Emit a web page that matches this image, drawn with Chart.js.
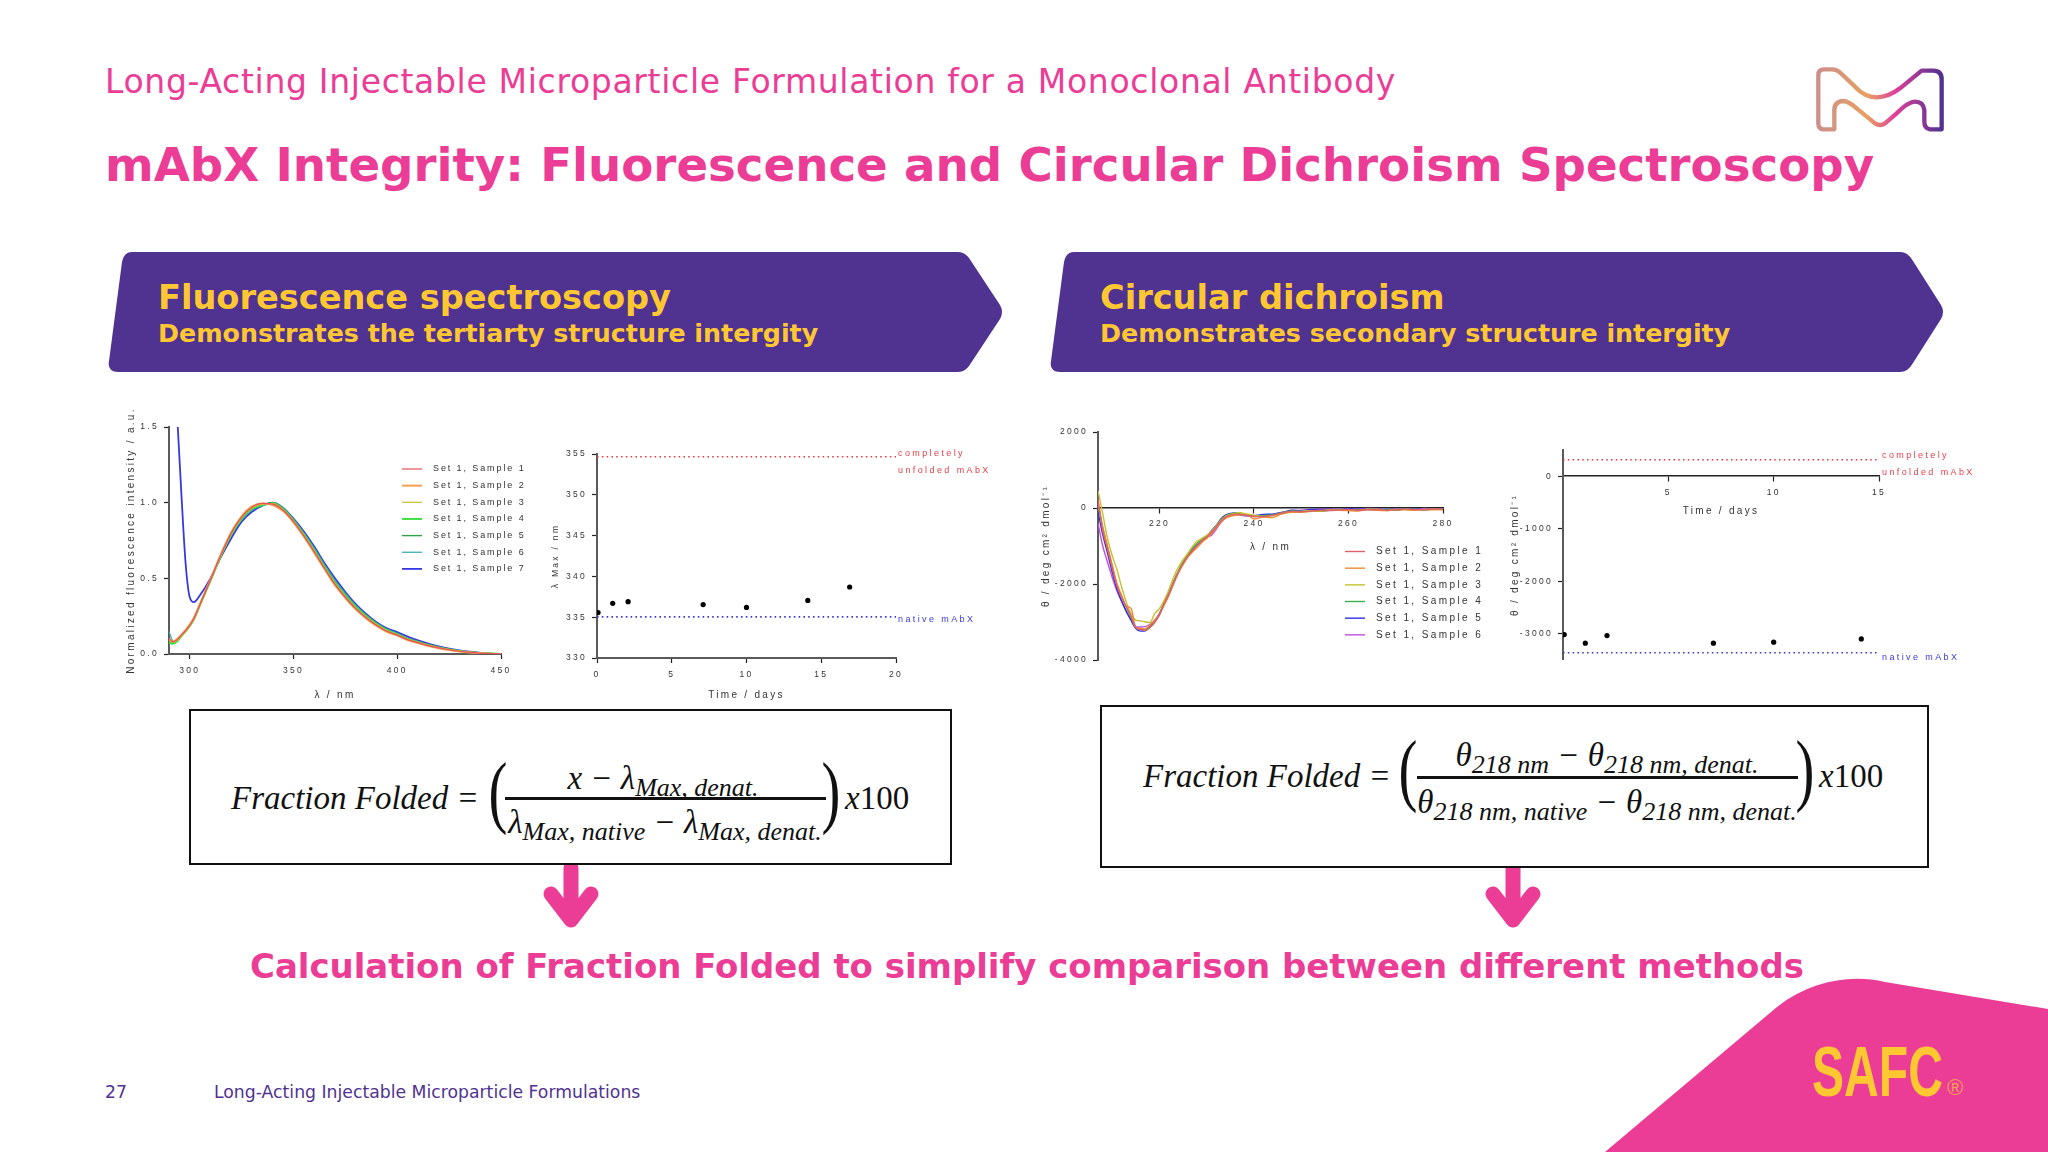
<!DOCTYPE html>
<html><head><meta charset="utf-8">
<script src="https://cdn.jsdelivr.net/npm/chart.js@4"></script>
<style>
html,body{margin:0;padding:0;background:#fff;width:2048px;height:1152px;overflow:hidden;font-family:"DejaVu Sans",sans-serif}
.t{position:absolute;white-space:nowrap;line-height:1;transform:translateY(-50%)}
.c{position:absolute;white-space:nowrap;line-height:1;transform:translate(-50%,-50%)}
.f{font-family:"Liberation Serif",serif;font-style:italic;color:#111;font-size:33px}
.f sub{font-size:26px;vertical-align:-7px;line-height:0}
.f .up{font-style:normal}
.paren{position:absolute;line-height:1;font-family:"Liberation Serif",serif;font-size:81px;font-weight:normal;color:#111;transform:translate(-50%,-50%) scaleX(.7)}
.box{position:absolute;border:2.5px solid #111;box-sizing:border-box;background:#fff}
canvas{position:absolute}
svg{position:absolute;left:0;top:0}
</style></head><body>
<svg width="2048" height="1152" viewBox="0 0 2048 1152">
  <defs><linearGradient id="lg" x1="0" x2="1" y1="0" y2="0">
    <stop offset="0" stop-color="#cc8f8c"/><stop offset=".4" stop-color="#e8a060"/><stop offset=".62" stop-color="#e0409a"/><stop offset="1" stop-color="#503291"/></linearGradient></defs>
  <path d="M132,252 H958 Q966,252 971,261 L1000,305 Q1004,312 1000,319 L971,363 Q966,372 958,372 H118 Q107,372 109,361 L122,262 Q124,252 132,252 Z" fill="#503291"/>
  <path d="M1074,252 H1900 Q1908,252 1913,261 L1941,305 Q1945,312 1941,319 L1913,363 Q1908,372 1900,372 H1060 Q1049,372 1051,361 L1064,262 Q1066,252 1074,252 Z" fill="#503291"/>
  <path d="M1605,1152 L1777,1007 C1810,981 1850,974 1885,982 L2048,1009 V1152 Z" fill="#eb3c96"/>
  <g transform="translate(1780,40) scale(0.3333)" fill="none" stroke="url(#lg)" stroke-width="13" stroke-linejoin="round" stroke-linecap="round">
    <path d="M115,105 Q115,88 132,88 H155 Q172,88 185,102 L225,140 Q255,172 290,172 Q325,172 360,145 L425,92 H460 Q485,92 485,118 V268 H450 Q433,265 433,245 V210 Q430,185 405,185 Q385,185 350,220 L315,250 Q300,260 285,250 L230,205 Q205,183 190,183 Q163,185 163,210 V268 H130 Q115,268 115,250 Z"/>
  </g>
  <g fill="none" stroke="#eb3c96" stroke-width="15" stroke-linecap="round" stroke-linejoin="round">
    <path d="M571,868 V920 M551,894 L571,920 L591,894"/>
    <path d="M1513,868 V920 M1493,894 L1513,920 L1533,894"/>
  </g>
</svg>

<div class="t" style="left:105px;top:81px;font-size:33px;letter-spacing:.68px;color:#eb3c96">Long-Acting Injectable Microparticle Formulation for a Monoclonal Antibody</div>
<div class="t" style="left:105px;top:164.5px;font-size:46.7px;font-weight:bold;color:#eb3c96">mAbX Integrity: Fluorescence and Circular Dichroism Spectroscopy</div>
<div class="t" style="left:158px;top:298px;font-size:33.6px;font-weight:bold;color:#ffc832">Fluorescence spectroscopy</div>
<div class="t" style="left:158px;top:334px;font-size:25.3px;font-weight:bold;color:#ffc832">Demonstrates the tertiarty structure intergity</div>
<div class="t" style="left:1100px;top:298px;font-size:33.6px;font-weight:bold;color:#ffc832">Circular dichroism</div>
<div class="t" style="left:1100px;top:334px;font-size:25.3px;font-weight:bold;color:#ffc832">Demonstrates secondary structure intergity</div>

<canvas id="c1" style="left:110px;top:400px" width="430" height="306"></canvas>
<canvas id="c2" style="left:540px;top:430px" width="470" height="276"></canvas>
<canvas id="c3" style="left:1030px;top:410px" width="470" height="270"></canvas>
<canvas id="c4" style="left:1500px;top:430px" width="490" height="240"></canvas>

<div class="box" style="left:189px;top:709px;width:763px;height:156px"></div>
<div class="box" style="left:1100px;top:705px;width:829px;height:163px"></div>

<div class="t f" style="left:231px;top:798px">Fraction Folded =</div>
<div class="paren" style="left:498px;top:791px">(</div>
<div class="c f" style="left:663px;top:778px">x − λ<sub>Max, denat.</sub></div>
<div style="position:absolute;left:505px;top:797px;width:321px;height:2.5px;background:#111"></div>
<div class="c f" style="left:665px;top:822px">λ<sub>Max, native</sub> − λ<sub>Max, denat.</sub></div>
<div class="paren" style="left:831px;top:791px">)</div>
<div class="t f" style="left:845px;top:798px">x<span class="up">100</span></div>

<div class="t f" style="left:1143px;top:776px">Fraction Folded =</div>
<div class="paren" style="left:1408px;top:769px">(</div>
<div class="c f" style="left:1607px;top:755px">θ<sub>218 nm</sub> − θ<sub>218 nm, denat.</sub></div>
<div style="position:absolute;left:1417px;top:776px;width:381px;height:2.5px;background:#111"></div>
<div class="c f" style="left:1607px;top:802px">θ<sub>218 nm, native</sub> − θ<sub>218 nm, denat.</sub></div>
<div class="paren" style="left:1805px;top:769px">)</div>
<div class="t f" style="left:1819px;top:776px">x<span class="up">100</span></div>

<div class="t" style="left:250px;top:967px;font-size:33.95px;font-weight:bold;color:#eb3c96">Calculation of Fraction Folded to simplify comparison between different methods</div>
<div class="t" style="left:105px;top:1093px;font-size:17.25px;color:#503291">27</div>
<div class="t" style="left:214px;top:1093px;font-size:17.25px;color:#503291">Long-Acting Injectable Microparticle Formulations</div>
<div class="t" style="left:1812px;top:1071px;font-size:71px;font-weight:bold;color:#ffc832;font-family:'Liberation Sans',sans-serif;transform-origin:left center;transform:translateY(-50%) scaleX(.677)">SAFC</div>
<div class="t" style="left:1947px;top:1088px;font-size:22px;color:#f8a050;font-family:'Liberation Sans',sans-serif">®</div>

<script>
// ---------- Fluorescence spectra ----------
const wavelengths = [290,291,292,294,296,298,300,302,305,310,315,320,325,330,335,340,345,350,355,360,365,370,375,380,385,390,395,400,405,410,415,420,425,430,435,440,445,450];
const fl1 = [.105,.09,.08,.095,.125,.155,.19,.235,.33,.49,.655,.80,.905,.97,.995,.99,.95,.875,.78,.675,.565,.46,.375,.30,.24,.19,.15,.125,.095,.075,.055,.04,.028,.018,.011,.006,.002,0];
const fl2 = [.10,.088,.082,.10,.128,.16,.195,.24,.335,.495,.66,.805,.91,.975,.995,.985,.945,.87,.775,.67,.56,.455,.37,.295,.235,.185,.147,.122,.092,.072,.053,.038,.026,.017,.010,.005,.002,0];
const fl3 = [.09,.082,.078,.09,.12,.15,.185,.23,.325,.485,.65,.795,.90,.965,.99,.995,.955,.88,.785,.68,.57,.465,.38,.305,.245,.195,.155,.128,.098,.077,.057,.042,.029,.019,.012,.006,.002,0];
const fl4 = [.075,.07,.068,.085,.118,.15,.185,.23,.325,.485,.648,.79,.895,.96,.985,.995,.955,.88,.79,.685,.575,.47,.385,.31,.25,.198,.157,.13,.10,.079,.059,.043,.03,.02,.012,.006,.003,0];
const fl5 = [.085,.076,.072,.088,.12,.152,.187,.232,.327,.487,.65,.79,.893,.958,.985,1.0,.96,.885,.79,.685,.578,.475,.388,.312,.25,.20,.16,.132,.10,.08,.06,.044,.03,.02,.012,.007,.003,0];
const fl6 = [.15,.11,.085,.092,.122,.153,.188,.233,.328,.488,.648,.785,.885,.95,.98,1.0,.968,.892,.80,.70,.59,.487,.40,.322,.258,.205,.165,.137,.105,.083,.062,.046,.032,.021,.013,.007,.003,0];
const fl7 = [null,null,null,1.56,1.05,.60,.375,.343,.39,.50,.64,.765,.875,.94,.98,1.0,.965,.895,.81,.71,.60,.50,.41,.33,.265,.21,.17,.145,.115,.09,.068,.05,.036,.024,.015,.008,.003,0];
const flLabels = ["Set 1, Sample 1","Set 1, Sample 2","Set 1, Sample 3","Set 1, Sample 4","Set 1, Sample 5","Set 1, Sample 6","Set 1, Sample 7"];
const flColors = ["#e8505a","#f4a050","#c4c030","#40e040","#30a048","#30a8b0","#3838e0"];
const flWidths = [1.2,2,1.2,2,1.4,1.2,1.8];

// ---------- lambda max vs time ----------
const lamDays = [0.07,1.05,2.08,7.1,10,14.1,16.9];
const lamMax = [335.57,336.7,336.9,336.55,336.2,337.05,338.7];
const lamRefDays = [0,20];
const lamUnfolded = [354.67,354.67];
const lamNative = [335.04,335.04];

// ---------- Circular dichroism spectra ----------
const cdWavelengths = [207,208,209,210,211,212,213,214,215,216,217,218,219,220,221,222,223,224,225,226,227,228,229,230,231,232,233,234,235,236,237,238,239,240,242,244,246,248,250,252,254,256,258,260,262,264,266,268,270,272,274,276,278,280];
const cd1 = [250,-600,-1080,-1580,-2050,-2350,-2600,-2850,-3150,-3200,-3220,-3130,-3000,-2820,-2520,-2260,-1960,-1680,-1460,-1270,-1120,-980,-860,-770,-640,-500,-340,-240,-190,-160,-170,-190,-200,-220,-230,-190,-130,-90,-100,-80,-60,-70,-50,-40,-60,-50,-40,-60,-50,-30,-40,-50,-20,-30];
const cd2 = [150,-500,-1000,-1500,-1980,-2300,-2580,-2640,-3140,-3170,-3180,-3080,-2960,-2790,-2560,-2300,-2000,-1710,-1490,-1300,-1160,-1040,-900,-800,-680,-530,-370,-270,-220,-190,-180,-170,-210,-290,-240,-250,-150,-110,-110,-90,-70,-60,-60,-70,-80,-40,-60,-70,-40,-50,-60,-40,-50,-40];
const cd3 = [450,-150,-800,-1250,-1620,-2080,-2480,-2780,-2950,-2970,-3000,-3010,-2780,-2650,-2430,-2150,-1820,-1560,-1360,-1190,-1010,-870,-800,-720,-620,-480,-330,-220,-170,-140,-120,-150,-170,-190,-220,-200,-150,-100,-90,-70,-80,-50,-60,-40,-70,-30,-30,-70,-40,-30,-50,-40,-30,-50];
const cd4 = [80,-520,-1020,-1520,-2020,-2340,-2620,-2880,-3140,-3190,-3210,-3150,-3010,-2800,-2510,-2240,-1930,-1660,-1420,-1240,-1060,-930,-830,-740,-620,-470,-310,-210,-160,-130,-150,-180,-190,-210,-200,-180,-120,-80,-90,-70,-90,-60,-40,-50,-50,-40,-40,-50,-60,-30,-40,-50,-30,-40];
const cd5 = [-100,-700,-1180,-1680,-2130,-2450,-2720,-2960,-3170,-3240,-3230,-3120,-2970,-2790,-2500,-2240,-1950,-1690,-1460,-1270,-1110,-970,-880,-760,-600,-460,-290,-190,-140,-130,-160,-200,-210,-200,-170,-160,-120,-60,-70,-40,-30,-30,-40,-20,-30,-30,-30,-40,-30,-20,-30,-40,-20,-30];
const cd6 = [-400,-1000,-1420,-1820,-2180,-2460,-2730,-2930,-3130,-3130,-3120,-3060,-2950,-2770,-2530,-2280,-1980,-1700,-1450,-1270,-1120,-990,-880,-760,-720,-560,-380,-260,-190,-180,-180,-200,-190,-230,-200,-170,-110,-70,-60,-50,-40,-20,-40,-30,-30,-10,-20,-50,-40,-30,-40,-10,-30,-20];
const cdLabels = ["Set 1, Sample 1","Set 1, Sample 2","Set 1, Sample 3","Set 1, Sample 4","Set 1, Sample 5","Set 1, Sample 6"];
const cdColors = ["#e0606a","#f08a30","#c8c030","#3ab04a","#3030e0","#c050e0"];

// ---------- theta 218 vs time ----------
const thDays = [0.06,1.06,2.09,7.14,10,14.16];
const thValues = [-3018,-3182,-3037,-3182,-3163,-3100];
const thRefDays = [0,15];
const thUnfolded = [315,315];
const thNative = [-3365,-3365];
const thTicks = [-3000,-2000,-1000,0];

const INK = "#333";
const RED = "#e8404a";
const BLUE = "#3a3ad8";
const FONT = 'Liberation Sans';

// Wide-tracked text, legend and side notes (the source figure's look).
const trackingPlugin = {
  id: 'tracking',
  beforeDraw(chart, args, o) { chart.ctx.letterSpacing = (o.spacing || 2.3) + 'px'; },
  afterDraw(chart, args, o) {
    const ctx = chart.ctx;
    ctx.save();
    ctx.textBaseline = 'middle'; ctx.textAlign = 'left';
    if (o.legend) {
      const L = o.legend;
      ctx.letterSpacing = L.spacing + 'px';
      ctx.font = L.size + 'px "' + FONT + '"';
      const items = chart.data.datasets.filter(d => d.inLegend);
      items.forEach((d, i) => {
        const y = L.y + i * L.step;
        ctx.strokeStyle = d.borderColor; ctx.lineWidth = d.borderWidth;
        ctx.beginPath(); ctx.moveTo(L.x, y); ctx.lineTo(L.x + 20, y); ctx.stroke();
        ctx.fillStyle = INK; ctx.fillText(d.label, L.x + 31, y);
      });
    }
    (o.notes || []).forEach(n => {
      ctx.letterSpacing = n.spacing + 'px';
      ctx.font = n.size + 'px "' + FONT + '"';
      ctx.fillStyle = n.color; ctx.fillText(n.text, n.x, n.y);
    });
    ctx.restore();
    ctx.letterSpacing = '0px';
  }
};

function linePts(xs, ys) { return xs.map((x, i) => ({x, y: ys[i]})); }

function axis(o) {
  return Object.assign({
    type: 'linear', min: o.min, max: o.max,
    border: {display: true, color: o.borderColor || '#5a5a5a', width: o.borderWidth || 2},
    grid: {drawOnChartArea: false, drawTicks: true, tickLength: 5, tickColor: '#222', tickWidth: 1.2},
    ticks: {
      stepSize: o.step, includeBounds: false, autoSkip: false, maxRotation: 0,
      color: INK, padding: o.pad, font: {family: FONT, size: o.tickSize || 8.5},
      callback: o.cb || (v => String(v))
    },
    title: {display: true, text: o.title, color: INK, padding: {top: 0, bottom: 0},
            font: {family: FONT, size: o.titleSize || 10}},
    afterFit(s) { if (o.w !== undefined) s.width = o.w; if (o.h !== undefined) s.height = o.h; }
  }, o.position ? {position: o.position} : {}, o.fixedTicks ? {afterBuildTicks(s) { s.ticks = o.fixedTicks.map(value => ({value})); }} : {});
}

function make(id, type, datasets, xOpt, yOpt, pad, trk) {
  return new Chart(document.getElementById(id), {
    type, data: {datasets},
    plugins: [trackingPlugin],
    options: {
      responsive: false, animation: false, devicePixelRatio: 1,
      layout: {autoPadding: false, padding: pad},
      plugins: {legend: {display: false}, title: {display: false}, tooltip: {enabled: false}, tracking: trk},
      scales: {x: axis(xOpt), y: axis(yOpt)}
    }
  });
}

function spectrum(xs, ys, label, color, width) {
  return {label, data: linePts(xs, ys), borderColor: color, backgroundColor: color, borderWidth: width,
          pointRadius: 0, cubicInterpolationMode: 'monotone', fill: false, inLegend: true};
}
function refLine(xs, ys, color) {
  return {data: linePts(xs, ys), borderColor: color, borderWidth: 1.6, borderDash: [1.6, 3.2], pointRadius: 0,
          showLine: true, fill: false};
}
function dots(xs, ys) {
  return {data: linePts(xs, ys), showLine: false, pointRadius: 2.6, pointBackgroundColor: '#000', pointBorderWidth: 0};
}

const flSeries = [fl1, fl2, fl3, fl4, fl5, fl6, fl7];
make('c1', 'line', flSeries.map((s, i) => spectrum(wavelengths, s, flLabels[i], flColors[i], flWidths[i])),
  {min: 290, max: 450, step: 50, title: 'λ / nm', h: 47, pad: 7},
  {min: 0, max: 1.5, step: 0.5, title: 'Normalized fluorescence intensity / a.u.', w: 44, pad: 5, cb: v => v.toFixed(1)},
  {left: 15, top: 27, right: 39, bottom: 5},
  {spacing: 2.3, legend: {x: 292, y: 69, step: 16.65, size: 9, spacing: 1.9}});

make('c2', 'scatter', [dots(lamDays, lamMax), refLine(lamRefDays, lamUnfolded, RED), refLine(lamRefDays, lamNative, BLUE)],
  {min: 0, max: 20, step: 5, title: 'Time / days', h: 43, pad: 7},
  {min: 330, max: 355, step: 5, title: 'λ Max / nm', titleSize: 8.5, w: 46, pad: 5},
  {left: 11, top: 24, right: 114, bottom: 5},
  {spacing: 2.3, notes: [
    {text: 'completely', x: 358, y: 24, size: 9, spacing: 2.4, color: RED},
    {text: 'unfolded mAbX', x: 358, y: 40.5, size: 9, spacing: 2.4, color: RED},
    {text: 'native mAbX', x: 358, y: 190, size: 9, spacing: 2.4, color: BLUE}]});

const cdSeries = [cd1, cd2, cd3, cd4, cd5, cd6];
make('c3', 'line', cdSeries.map((s, i) => spectrum(cdWavelengths, s, cdLabels[i], cdColors[i], 1.4)),
  {min: 207, max: 280, step: 20, title: 'λ / nm', h: 45, pad: 6, position: {y: 0}, borderColor: '#222', borderWidth: 1.5},
  {min: -4000, max: 2000, step: 2000, title: 'θ / deg cm² dmol⁻¹', w: 58, pad: 5},
  {left: 10, top: 22, right: 57, bottom: 20},
  {spacing: 2.3, legend: {x: 315, y: 141.5, step: 16.67, size: 10, spacing: 2.4}});

make('c4', 'scatter', [dots(thDays, thValues), refLine(thRefDays, thUnfolded, RED), refLine(thRefDays, thNative, BLUE)],
  {min: 0, max: 15, step: 5, title: 'Time / days', h: 41, pad: 6, position: {y: 0}, borderColor: '#222', borderWidth: 1.5, cb: v => v === 0 ? null : String(v)},
  {min: -3500, max: 500, title: 'θ / deg cm² dmol⁻¹', w: 54, pad: 5, fixedTicks: thTicks},
  {left: 9, top: 20, right: 111, bottom: 8},
  {spacing: 2.3, notes: [
    {text: 'completely', x: 382, y: 26, size: 9, spacing: 2.4, color: RED},
    {text: 'unfolded mAbX', x: 382, y: 42.5, size: 9, spacing: 2.4, color: RED},
    {text: 'native mAbX', x: 382, y: 227.5, size: 9, spacing: 2.4, color: BLUE}]});
</script>
</body></html>
